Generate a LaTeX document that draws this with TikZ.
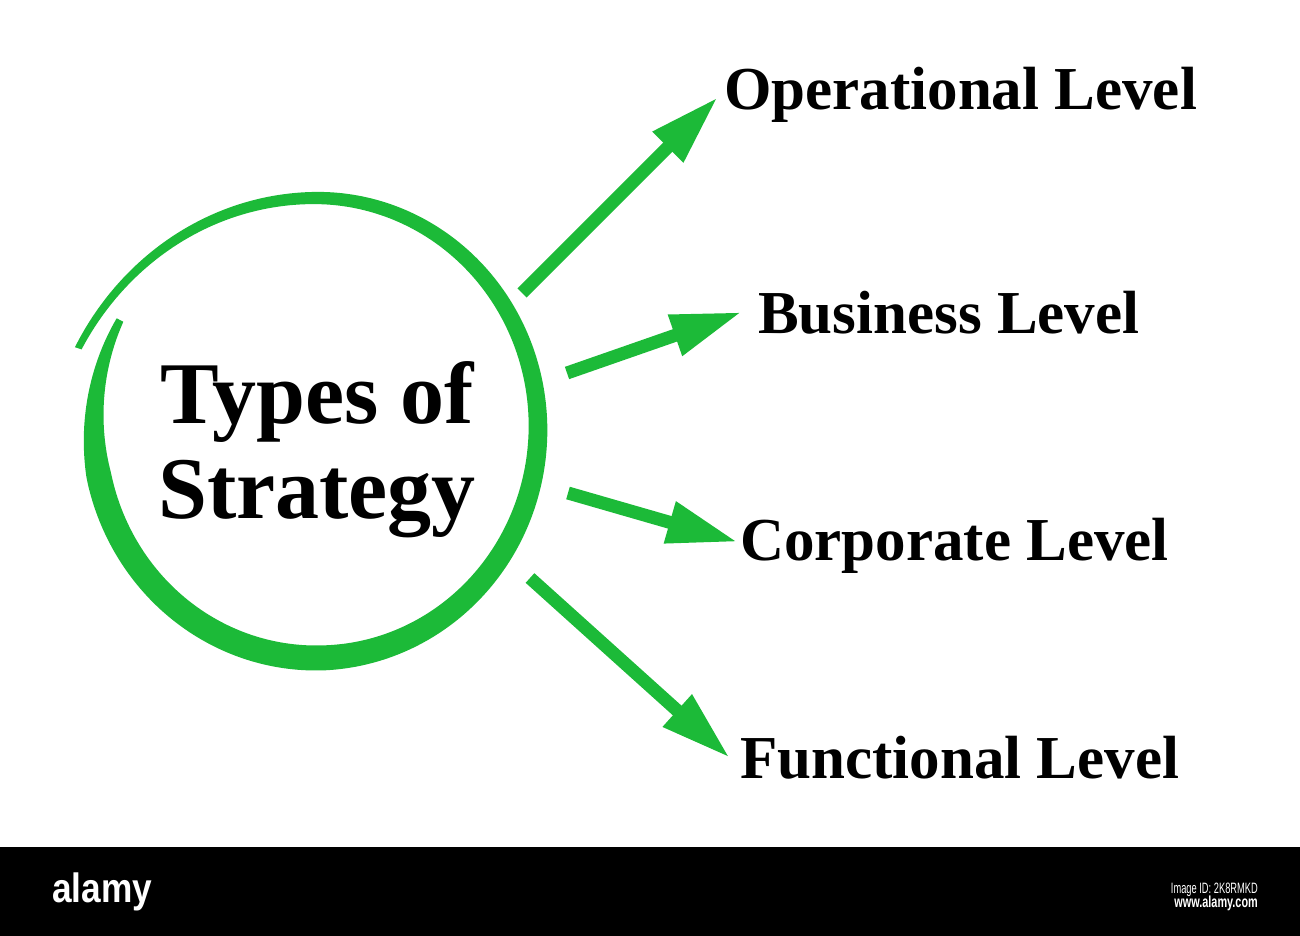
\documentclass[tikz,border=0pt]{standalone}
\usepackage{fontspec}
\setmainfont{Liberation Serif}
\setsansfont{Liberation Sans}
\usetikzlibrary{arrows.meta}
\definecolor{strokegreen}{RGB}{28,186,56}
\begin{document}
\begin{tikzpicture}[x=1pt,y=-1pt,
  declare function={
    cw(\t)=(7+18*min(162-\t,250)/250)*(0.3+0.7*min(1,(\t+208)/40));
    cd(\t)=28*pow(max(0,(\t-90)/72),2);
  },
  arr/.style={strokegreen, line width=13pt, -{Triangle[length=71pt,width=40pt]}},
  lvl/.style={anchor=base west, inner sep=0pt, font=\fontsize{61}{70}\selectfont\bfseries},
  wmtext/.style={inner sep=0pt, text=white},
]
\useasboundingbox (0,0) rectangle (1300,936);
\fill[white] (0,0) rectangle (1300,936);

% hand-drawn circle
\fill[strokegreen]
  plot[domain=162:-208, samples=160, smooth]
    ({316+(222+cd(\x)+cw(\x)/2)*cos(\x)},{428-(230+cd(\x)+cw(\x)/2)*sin(\x)})
  -- plot[domain=-208:162, samples=160, smooth]
    ({316+(222+cd(\x)-cw(\x)/2)*cos(\x)},{428-(230+cd(\x)-cw(\x)/2)*sin(\x)})
  -- cycle;

\node[anchor=base, align=center, inner sep=0pt,
      font=\fontsize{88}{95}\selectfont\bfseries] (core) at (317,518)
      {Types of\\Strategy};

% labels
\node[lvl] (op) at (724,110) {Operational Level};
\node[lvl] (bu) at (758,333) {Business Level};
\node[lvl] (co) at (740,560) {Corporate Level};
\node[lvl] (fu) at (740,778) {Functional Level};

% arrows
\coordinate (t1) at (522,293); \coordinate (h1) at (718,97);
\coordinate (t2) at (567,373); \coordinate (h2) at (742,312);
\coordinate (t3) at (568,493); \coordinate (h3) at (738,542);
\coordinate (t4) at (530,578); \coordinate (h4) at (730,758);
\draw[arr] (t1) -- (h1);
\draw[arr] (t2) -- (h2);
\draw[arr] (t3) -- (h3);
\draw[arr] (t4) -- (h4);

% bottom bar
\fill[black] (0,847) rectangle (1300,936);
\node[wmtext, anchor=base west, font=\sffamily\bfseries\fontsize{41}{41}\selectfont] (logo) at (52,902) {\scalebox{0.86}[1]{alamy}};
\node[wmtext, anchor=base east, font=\sffamily\fontsize{15}{15}\selectfont] (imgid) at (1258,893) {\scalebox{0.62}[1]{Image ID: 2K8RMKD}};
\node[wmtext, anchor=base east, font=\sffamily\bfseries\fontsize{16}{16}\selectfont] (www) at (1258,907) {\scalebox{0.68}[1]{www.alamy.com}};
\end{tikzpicture}
\end{document}
